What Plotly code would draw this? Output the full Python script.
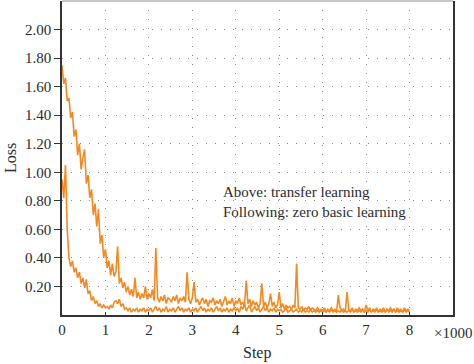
import plotly.graph_objects as go

# Step axis (x1000), sampled every 0.04 thousand steps
steps = [round(i * 0.04, 2) for i in range(201)]

transfer_loss = [
    1.75, 1.62, 1.66, 1.50, 1.52, 1.38, 1.42, 1.25, 1.30, 1.12, 1.20, 1.02, 1.10, 1.16, 0.92, 0.98, 0.82, 0.88, 0.70, 0.78, 0.62, 0.74, 0.50, 0.56, 0.40,
    0.46, 0.33, 0.38, 0.28, 0.36, 0.27, 0.30, 0.48, 0.22, 0.26, 0.19, 0.23, 0.16, 0.20, 0.14, 0.18, 0.13, 0.26, 0.12, 0.16, 0.11, 0.15, 0.12, 0.20, 0.11,
    0.15, 0.12, 0.18, 0.10, 0.47, 0.12, 0.09, 0.13, 0.10, 0.14, 0.08, 0.12, 0.11, 0.09, 0.13, 0.10, 0.14, 0.08, 0.12, 0.10, 0.13, 0.09, 0.30, 0.11, 0.08,
    0.12, 0.23, 0.09, 0.11, 0.07, 0.10, 0.12, 0.08, 0.11, 0.06, 0.10, 0.09, 0.12, 0.07, 0.10, 0.08, 0.11, 0.06, 0.09, 0.13, 0.07, 0.10, 0.08, 0.12, 0.06,
    0.10, 0.08, 0.12, 0.07, 0.09, 0.06, 0.24, 0.08, 0.11, 0.06, 0.10, 0.07, 0.09, 0.05, 0.08, 0.22, 0.06, 0.09, 0.05, 0.08, 0.15, 0.06, 0.09, 0.05, 0.07,
    0.16, 0.05, 0.08, 0.04, 0.07, 0.05, 0.06, 0.04, 0.07, 0.05, 0.36, 0.05, 0.04, 0.06, 0.03, 0.05, 0.04, 0.06, 0.03, 0.05, 0.04, 0.03, 0.05, 0.03, 0.04,
    0.03, 0.05, 0.02, 0.04, 0.03, 0.05, 0.03, 0.04, 0.02, 0.14, 0.05, 0.03, 0.04, 0.02, 0.16, 0.04, 0.03, 0.05, 0.02, 0.04, 0.03, 0.05, 0.03, 0.04, 0.02,
    0.07, 0.03, 0.05, 0.02, 0.04, 0.03, 0.05, 0.02, 0.04, 0.03, 0.05, 0.02, 0.04, 0.03, 0.05, 0.03, 0.04, 0.02, 0.05, 0.03, 0.04, 0.02, 0.05, 0.03, 0.04, 0.03,
]

zero_basic_loss = [
    0.95, 0.82, 1.05, 0.60, 0.40, 0.34, 0.38, 0.30, 0.33, 0.26, 0.30, 0.22, 0.26, 0.19, 0.25, 0.15, 0.17, 0.10, 0.13, 0.08, 0.10, 0.06, 0.08, 0.05, 0.07,
    0.05, 0.06, 0.04, 0.07, 0.05, 0.09, 0.10, 0.08, 0.11, 0.06, 0.08, 0.04, 0.05, 0.03, 0.05, 0.02, 0.04, 0.03, 0.05, 0.02, 0.04, 0.03, 0.05, 0.02, 0.04,
    0.03, 0.05, 0.02, 0.04, 0.06, 0.03, 0.05, 0.02, 0.04, 0.03, 0.06, 0.02, 0.04, 0.03, 0.05, 0.02, 0.04, 0.06, 0.03, 0.05, 0.02, 0.04, 0.03, 0.05, 0.02,
    0.04, 0.03, 0.05, 0.02, 0.04, 0.06, 0.03, 0.05, 0.02, 0.04, 0.03, 0.05, 0.02, 0.04, 0.06, 0.03, 0.05, 0.02, 0.04, 0.03, 0.05, 0.02, 0.04, 0.03, 0.05,
    0.03, 0.05, 0.02, 0.06, 0.04, 0.08, 0.03, 0.05, 0.07, 0.02, 0.04, 0.06, 0.03, 0.05, 0.02, 0.04, 0.06, 0.03, 0.05, 0.02, 0.04, 0.03, 0.05, 0.02, 0.04,
    0.03, 0.04, 0.02, 0.03, 0.05, 0.02, 0.03, 0.04, 0.02, 0.03, 0.04, 0.02, 0.03, 0.02, 0.04, 0.02, 0.03, 0.02, 0.04, 0.02, 0.03, 0.02, 0.03, 0.02, 0.03,
    0.02, 0.03, 0.02, 0.03, 0.02, 0.04, 0.02, 0.03, 0.02, 0.03, 0.02, 0.04, 0.02, 0.03, 0.02, 0.03, 0.02, 0.04, 0.02, 0.03, 0.02, 0.03, 0.02, 0.04, 0.02,
    0.03, 0.02, 0.04, 0.02, 0.03, 0.02, 0.04, 0.02, 0.03, 0.02, 0.03, 0.02, 0.04, 0.02, 0.03, 0.02, 0.04, 0.02, 0.03, 0.02, 0.03, 0.02, 0.04, 0.02, 0.03, 0.02,
]

x_tick_vals = [0, 1, 2, 3, 4, 5, 6, 7, 8]
x_tick_text = ["0", "1", "2", "3", "4", "5", "6", "7", "8"]
y_tick_vals = [0.2, 0.4, 0.6, 0.8, 1.0, 1.2, 1.4, 1.6, 1.8, 2.0]
y_tick_text = ["0.20", "0.40", "0.60", "0.80", "1.00", "1.20", "1.40", "1.60", "1.80", "2.00"]

ORANGE = "#F5891F"
FONT = "Liberation Serif"
TXT = "#2b2b2b"

fig = go.Figure()
fig.add_trace(go.Scatter(x=steps, y=transfer_loss, mode="lines",
                         line=dict(color=ORANGE, width=1.6), name="transfer learning"))
fig.add_trace(go.Scatter(x=steps, y=zero_basic_loss, mode="lines",
                         line=dict(color=ORANGE, width=1.6), name="zero basic learning"))

fig.update_layout(
    width=474, height=364,
    margin=dict(l=62, r=21, t=1, b=49),
    paper_bgcolor="white", plot_bgcolor="white",
    showlegend=False,
    font=dict(family=FONT, size=15, color=TXT),
    xaxis=dict(range=[0, 9], tickvals=x_tick_vals, ticktext=x_tick_text,
               showgrid=True, gridcolor="#8a8a8a", gridwidth=1, griddash="1px,8px",
               showline=True, linecolor="#333", linewidth=1.5,
               ticks="inside", ticklen=3, tickcolor="#333",
               zeroline=False, tickfont=dict(family=FONT, size=15, color=TXT)),
    yaxis=dict(range=[0, 2.2], tickvals=y_tick_vals, ticktext=y_tick_text,
               showgrid=True, gridcolor="#8a8a8a", gridwidth=1, griddash="1px,8px",
               showline=True, linecolor="#333", linewidth=1.5, mirror=True,
               ticks="outside", ticklen=6, tickcolor="#333",
               zeroline=False, tickfont=dict(family=FONT, size=15, color=TXT)),
)

fig.add_shape(type="line", xref="paper", yref="paper", x0=0, x1=1, y0=1, y1=1,
              line=dict(color="#c8c8c8", width=2))

ann = [
    dict(text="Above: transfer learning", x=0.407, y=0.392),
    dict(text="Following: zero basic learning", x=0.407, y=0.328),
]
for a in ann:
    fig.add_annotation(text=a["text"], xref="paper", yref="paper", x=a["x"], y=a["y"],
                       xanchor="left", yanchor="middle", showarrow=False,
                       font=dict(family=FONT, size=15, color=TXT))

fig.add_annotation(text="×1000", xref="paper", yref="paper", x=0.946, y=-0.057,
                   xanchor="left", yanchor="middle", showarrow=False,
                   font=dict(family=FONT, size=15, color=TXT))
fig.add_annotation(text="Step", xref="paper", yref="paper", x=0.499, y=-0.121,
                   xanchor="center", yanchor="middle", showarrow=False,
                   font=dict(family=FONT, size=16, color=TXT))
fig.add_annotation(text="Loss", xref="paper", yref="paper", x=-0.133, y=0.5,
                   xanchor="center", yanchor="middle", showarrow=False, textangle=-90,
                   font=dict(family=FONT, size=16, color=TXT))

fig.write_html("out.html", config={"displayModeBar": False},
               post_script="document.body.style.margin='0';document.body.style.overflow='hidden';")
